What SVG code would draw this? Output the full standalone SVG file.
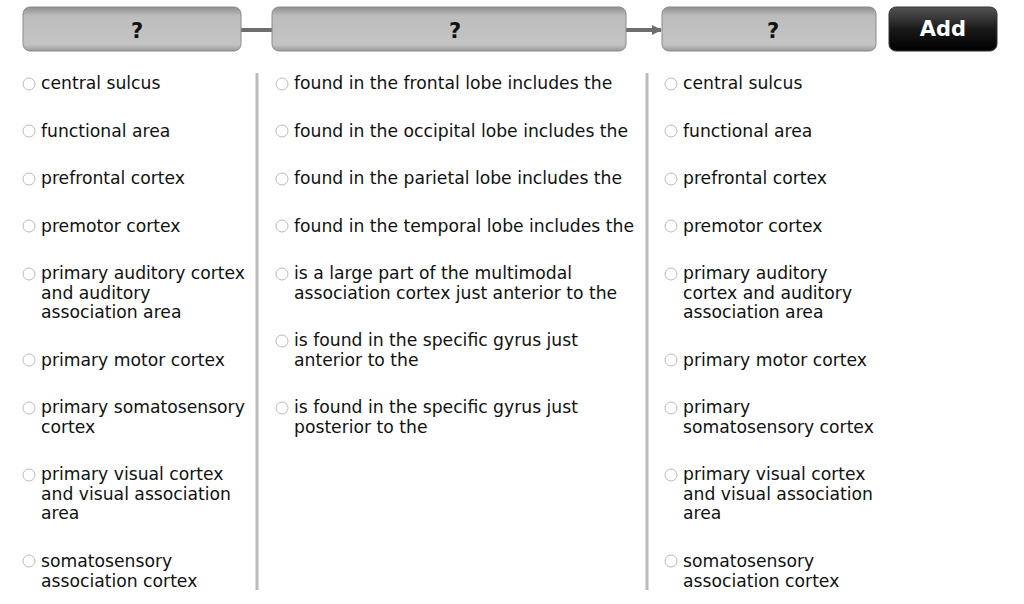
<svg xmlns="http://www.w3.org/2000/svg" width="1024" height="604" viewBox="0 0 1024 604">
<defs>
<linearGradient id="g" x1="0" y1="0" x2="0" y2="1"><stop offset="0" stop-color="#8e8e8e"/><stop offset="0.2" stop-color="#bdbdbd"/><stop offset="0.85" stop-color="#c4c4c4"/><stop offset="1" stop-color="#9a9a9a"/></linearGradient>
<linearGradient id="b" x1="0" y1="0" x2="0" y2="1"><stop offset="0" stop-color="#555"/><stop offset="0.5" stop-color="#1a1a1a"/><stop offset="1" stop-color="#000"/></linearGradient>
<marker id="a" markerWidth="10" markerHeight="10" refX="9" refY="5" orient="auto" markerUnits="userSpaceOnUse"><path d="M0,0 L10,5 L0,10 Z" fill="#6e6e6e"/></marker>
</defs>
<style>
.box{fill:url(#g);stroke:#8a8a8a;stroke-width:1}
.q{font-family:"DejaVu Sans",Verdana,sans-serif;font-weight:bold;font-size:21px;fill:#111;text-anchor:middle}
.t{font-family:"DejaVu Sans",Verdana,sans-serif;font-size:17.2px;fill:#111}
.r{fill:#fff;stroke:#bbb;stroke-width:1}
.sep{stroke:#bbb;stroke-width:3}
</style>
<g id="connectors" stroke="#6e6e6e" stroke-width="4" fill="none">
<line x1="241" y1="30" x2="272" y2="30"/>
<line x1="626" y1="30" x2="661" y2="30" marker-end="url(#a)"/>
</g>
<g id="box1"><rect class="box" x="23" y="7" width="218" height="44" rx="7"/><text class="q" x="137" y="38">?</text></g>
<g id="box2"><rect class="box" x="272" y="7" width="354" height="44" rx="7"/><text class="q" x="455" y="38">?</text></g>
<g id="box3"><rect class="box" x="662" y="7" width="214" height="44" rx="7"/><text class="q" x="773" y="38">?</text></g>
<g id="add"><rect x="889" y="7" width="108" height="44" rx="7" fill="url(#b)" stroke="#333"/><text class="q" x="943" y="36" style="fill:#fff">Add</text></g>
<line class="sep" x1="257" y1="73" x2="257" y2="590"/>
<line class="sep" x1="647" y1="73" x2="647" y2="590"/>
<g id="col1">
<circle class="r" cx="29" cy="84" r="6"/><text class="t" x="41" y="89">central sulcus</text>
<circle class="r" cx="29" cy="131" r="6"/><text class="t" x="41" y="137">functional area</text>
<circle class="r" cx="29" cy="179" r="6"/><text class="t" x="41" y="184">prefrontal cortex</text>
<circle class="r" cx="29" cy="226" r="6"/><text class="t" x="41" y="232">premotor cortex</text>
<circle class="r" cx="29" cy="274" r="6"/><text class="t" x="41" y="279">primary auditory cortex<tspan x="41" dy="19.5">and auditory</tspan><tspan x="41" dy="19.5">association area</tspan></text>
<circle class="r" cx="29" cy="360" r="6"/><text class="t" x="41" y="366">primary motor cortex</text>
<circle class="r" cx="29" cy="408" r="6"/><text class="t" x="41" y="413">primary somatosensory<tspan x="41" dy="19.5">cortex</tspan></text>
<circle class="r" cx="29" cy="475" r="6"/><text class="t" x="41" y="480">primary visual cortex<tspan x="41" dy="19.5">and visual association</tspan><tspan x="41" dy="19.5">area</tspan></text>
<circle class="r" cx="29" cy="561" r="6"/><text class="t" x="41" y="567">somatosensory<tspan x="41" dy="19.5">association cortex</tspan></text>
</g>
<g id="col2">
<circle class="r" cx="282" cy="84" r="6"/><text class="t" x="294" y="89">found in the frontal lobe includes the</text>
<circle class="r" cx="282" cy="131" r="6"/><text class="t" x="294" y="137">found in the occipital lobe includes the</text>
<circle class="r" cx="282" cy="179" r="6"/><text class="t" x="294" y="184">found in the parietal lobe includes the</text>
<circle class="r" cx="282" cy="226" r="6"/><text class="t" x="294" y="232">found in the temporal lobe includes the</text>
<circle class="r" cx="282" cy="274" r="6"/><text class="t" x="294" y="279">is a large part of the multimodal<tspan x="294" dy="19.5">association cortex just anterior to the</tspan></text>
<circle class="r" cx="282" cy="341" r="6"/><text class="t" x="294" y="346">is found in the specific gyrus just<tspan x="294" dy="19.5">anterior to the</tspan></text>
<circle class="r" cx="282" cy="408" r="6"/><text class="t" x="294" y="413">is found in the specific gyrus just<tspan x="294" dy="19.5">posterior to the</tspan></text>
</g>
<g id="col3">
<circle class="r" cx="671" cy="84" r="6"/><text class="t" x="683" y="89">central sulcus</text>
<circle class="r" cx="671" cy="131" r="6"/><text class="t" x="683" y="137">functional area</text>
<circle class="r" cx="671" cy="179" r="6"/><text class="t" x="683" y="184">prefrontal cortex</text>
<circle class="r" cx="671" cy="226" r="6"/><text class="t" x="683" y="232">premotor cortex</text>
<circle class="r" cx="671" cy="274" r="6"/><text class="t" x="683" y="279">primary auditory<tspan x="683" dy="19.5">cortex and auditory</tspan><tspan x="683" dy="19.5">association area</tspan></text>
<circle class="r" cx="671" cy="360" r="6"/><text class="t" x="683" y="366">primary motor cortex</text>
<circle class="r" cx="671" cy="408" r="6"/><text class="t" x="683" y="413">primary<tspan x="683" dy="19.5">somatosensory cortex</tspan></text>
<circle class="r" cx="671" cy="475" r="6"/><text class="t" x="683" y="480">primary visual cortex<tspan x="683" dy="19.5">and visual association</tspan><tspan x="683" dy="19.5">area</tspan></text>
<circle class="r" cx="671" cy="561" r="6"/><text class="t" x="683" y="567">somatosensory<tspan x="683" dy="19.5">association cortex</tspan></text>
</g>
</svg>
